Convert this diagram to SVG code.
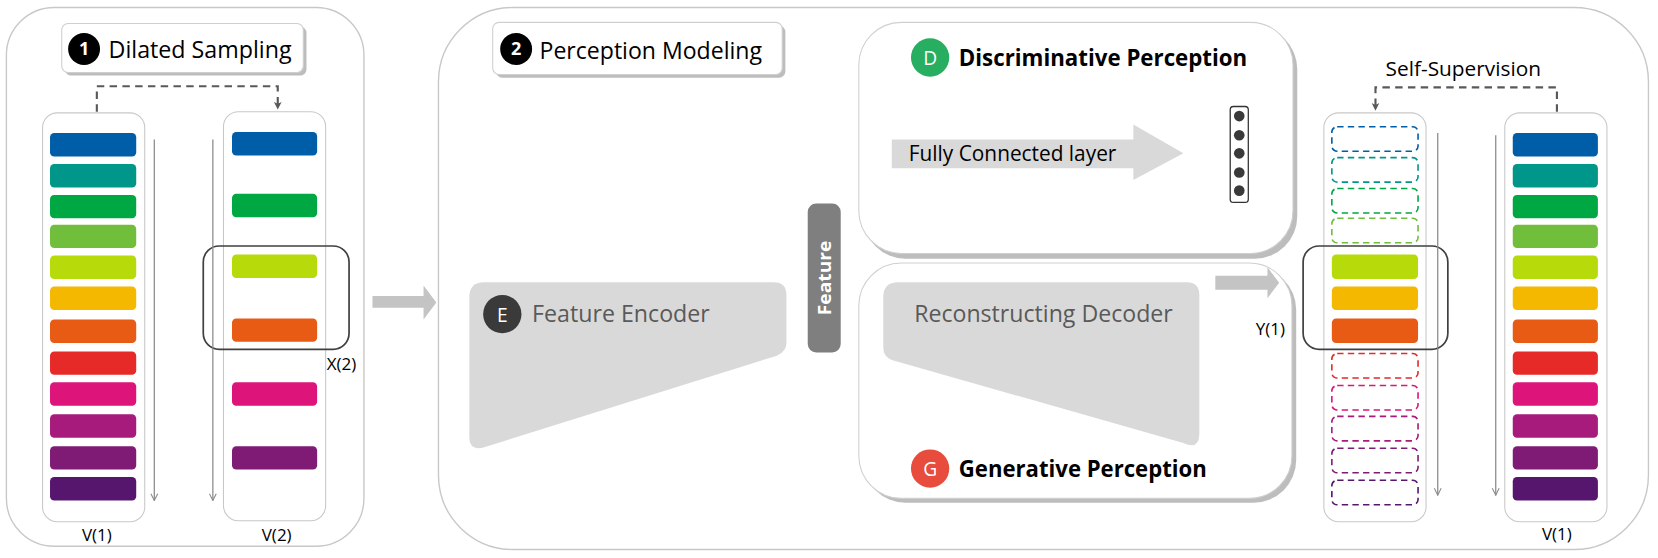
<svg xmlns="http://www.w3.org/2000/svg" width="1658" height="558" viewBox="0 0 1658 558">
<defs>
<style>
text{font-family:"Open Sans","Noto Sans","Liberation Sans",sans-serif;}
.panel{fill:#fff;stroke:#c8c8c8;stroke-width:1.3}
.col{fill:#fff;stroke:#c8c8c8;stroke-width:1}
.shadow{fill:#bdbdbd}
.box{fill:#fff;stroke:#cfcfcf;stroke-width:1}
.hl{fill:none;stroke:#404040;stroke-width:1.6}
.seq{stroke:#8c8c8c;stroke-width:1.2;fill:none}
.dash{stroke:#595959;stroke-width:2;fill:none;stroke-dasharray:7 5}
.db{fill:none;stroke-width:1.5;stroke-dasharray:6 4}
.gray{fill:#d9d9d9}
.lbl{font-size:16px;fill:#000}
</style>
<marker id="thin" viewBox="0 0 10 10" refX="9" refY="5" markerWidth="8" markerHeight="8" orient="auto" markerUnits="userSpaceOnUse"><polyline points="1,1 9,5 1,9" fill="none" stroke="#8c8c8c" stroke-width="1.3"/></marker>
<marker id="dk" viewBox="0 0 10 10" refX="8" refY="5" markerWidth="9" markerHeight="9" orient="auto" markerUnits="userSpaceOnUse"><path d="M1,1 L9,5 L1,9 L3,5 Z" fill="#595959"/></marker>
</defs>
<g transform="scale(1.0642,1.0649)">
<g id="panel-sampling">
<rect class="panel" x="6" y="7" width="336" height="506" rx="45"/>
<rect class="shadow" x="61" y="25" width="227" height="46" rx="6"/>
<rect class="box" x="58" y="22" width="227" height="46" rx="6"/>
<circle cx="79" cy="46" r="15" fill="#000"/>
<text x="79" y="52" font-size="17" font-weight="bold" fill="#fff" text-anchor="middle">1</text>
<text x="102" y="54" font-size="23" textLength="172" lengthAdjust="spacingAndGlyphs">Dilated Sampling</text>
</g>
<g id="col-v1">
<rect class="col" x="40" y="106" width="96" height="384" rx="14"/>
<rect x="47" y="125" width="81" height="22" rx="4" fill="#005ea8"/>
<rect x="47" y="154" width="81" height="22" rx="4" fill="#00968a"/>
<rect x="47" y="183" width="81" height="22" rx="4" fill="#00a843"/>
<rect x="47" y="211" width="81" height="22" rx="4" fill="#70be3b"/>
<rect x="47" y="240" width="81" height="22" rx="4" fill="#b6da0a"/>
<rect x="47" y="269" width="81" height="22" rx="4" fill="#f4b800"/>
<rect x="47" y="300" width="81" height="22" rx="4" fill="#e75b15"/>
<rect x="47" y="330" width="81" height="22" rx="4" fill="#e52a27"/>
<rect x="47" y="359" width="81" height="22" rx="4" fill="#dd1479"/>
<rect x="47" y="389" width="81" height="22" rx="4" fill="#a61b7b"/>
<rect x="47" y="419" width="81" height="22" rx="4" fill="#7f1b75"/>
<rect x="47" y="448" width="81" height="22" rx="4" fill="#57166e"/>
<text class="lbl" x="91" y="508" text-anchor="middle">V(1)</text>
</g>
<g id="col-v2">
<rect class="col" x="210" y="105" width="96" height="384" rx="14"/>
<rect x="218" y="124" width="80" height="22" rx="4" fill="#005ea8"/>
<rect x="218" y="182" width="80" height="22" rx="4" fill="#00a843"/>
<rect x="218" y="239" width="80" height="22" rx="4" fill="#b6da0a"/>
<rect x="218" y="299" width="80" height="22" rx="4" fill="#e75b15"/>
<rect x="218" y="359" width="80" height="22" rx="4" fill="#dd1479"/>
<rect x="218" y="419" width="80" height="22" rx="4" fill="#7f1b75"/>
<rect class="hl" x="191" y="231" width="137" height="97" rx="15"/>
<text class="lbl" x="307" y="347">X(2)</text>
<text class="lbl" x="260" y="508" text-anchor="middle">V(2)</text>
</g>
<g id="panel-modeling">
<rect class="panel" x="412" y="7" width="1137" height="509" rx="70"/>
<rect class="shadow" x="466" y="24" width="272" height="49" rx="6"/>
<rect class="box" x="463" y="21" width="272" height="49" rx="6"/>
<circle cx="485" cy="46" r="15" fill="#000"/>
<text x="485" y="52" font-size="17" font-weight="bold" fill="#fff" text-anchor="middle">2</text>
<text x="507" y="55" font-size="23" textLength="209" lengthAdjust="spacingAndGlyphs">Perception Modeling</text>
</g>
<g id="encoder">
<path class="gray" d="M455,265 H727 Q739,265 739,277 V322 Q739,330 730,334 L455,420 Q441,424 441,410 V279 Q441,265 455,265 Z"/>
<circle cx="472" cy="295" r="18" fill="#3a3a3a"/>
<text x="472" y="302" font-size="18" fill="#fff" text-anchor="middle">E</text>
<text x="500" y="302" font-size="22" fill="#595959" textLength="167" lengthAdjust="spacingAndGlyphs">Feature Encoder</text>
</g>
<g id="feature">
<rect x="759" y="191" width="31" height="140" rx="8" fill="#7f7f7f"/>
<text x="0" y="0" transform="translate(781,261) rotate(-90)" font-size="17" font-weight="bold" fill="#fff" text-anchor="middle" font-family="DejaVu Sans, sans-serif" textLength="70" lengthAdjust="spacingAndGlyphs">Feature</text>
</g>
<g id="discriminative">
<rect class="shadow" x="811" y="25" width="408" height="218" rx="40"/>
<rect class="box" x="807" y="21" width="408" height="217" rx="40"/>
<circle cx="874" cy="54" r="18" fill="#27ae60"/>
<text x="874" y="61" font-size="18" fill="#fff" text-anchor="middle">D</text>
<text x="901" y="62" font-size="22" font-weight="bold" textLength="271" lengthAdjust="spacingAndGlyphs">Discriminative Perception</text>
<path class="gray" d="M838,131 H1065 V117 L1112,144 L1065,169 V158 H838 Z"/>
<text x="854" y="151" font-size="20" fill="#000" textLength="195" lengthAdjust="spacingAndGlyphs">Fully Connected layer</text>
<rect x="1156" y="100" width="17" height="90" rx="3" fill="#fff" stroke="#333" stroke-width="1.2"/>
<circle cx="1164.5" cy="109" r="5" fill="#3a3a3a"/>
<circle cx="1164.5" cy="127" r="5" fill="#3a3a3a"/>
<circle cx="1164.5" cy="144" r="5" fill="#3a3a3a"/>
<circle cx="1164.5" cy="162" r="5" fill="#3a3a3a"/>
<circle cx="1164.5" cy="179" r="5" fill="#3a3a3a"/>
</g>
<g id="generative">
<rect class="shadow" x="811" y="251" width="407" height="221" rx="40"/>
<rect class="box" x="807" y="247" width="407" height="221" rx="40"/>
<path class="gray" d="M844,265 H1115 Q1127,265 1127,277 V407 Q1127,423 1112,416 L838,338 Q830,335 830,326 V279 Q830,265 844,265 Z"/>
<text x="859" y="302" font-size="22" fill="#595959" textLength="243" lengthAdjust="spacingAndGlyphs">Reconstructing Decoder</text>
<circle cx="874" cy="440" r="18" fill="#e74c3c"/>
<text x="874" y="447" font-size="18" fill="#fff" text-anchor="middle">G</text>
<text x="901" y="448" font-size="22" font-weight="bold" textLength="233" lengthAdjust="spacingAndGlyphs">Generative Perception</text>
<text class="lbl" x="1180" y="315">Y(1)</text>
</g>
<g id="col-recon">
<rect class="col" x="1244" y="106" width="96" height="384" rx="14"/>
<rect class="db" x="1251.5" y="119" width="81" height="23" rx="5" stroke="#005ea8"/>
<rect class="db" x="1251.5" y="148" width="81" height="23" rx="5" stroke="#00968a"/>
<rect class="db" x="1251.5" y="177" width="81" height="23" rx="5" stroke="#00a843"/>
<rect class="db" x="1251.5" y="205" width="81" height="23" rx="5" stroke="#70be3b"/>
<rect x="1251.5" y="239" width="81" height="23" rx="4" fill="#b6da0a"/>
<rect x="1251.5" y="269" width="81" height="22" rx="4" fill="#f4b800"/>
<rect x="1251.5" y="299" width="81" height="23" rx="4" fill="#e75b15"/>
<rect class="db" x="1251.5" y="332" width="81" height="23" rx="5" stroke="#e52a27"/>
<rect class="db" x="1251.5" y="362" width="81" height="23" rx="5" stroke="#dd1479"/>
<rect class="db" x="1251.5" y="391" width="81" height="23" rx="5" stroke="#a61b7b"/>
<rect class="db" x="1251.5" y="421" width="81" height="23" rx="5" stroke="#7f1b75"/>
<rect class="db" x="1251.5" y="451" width="81" height="23" rx="5" stroke="#57166e"/>
<rect class="hl" x="1224.5" y="231" width="136" height="97" rx="15"/>
</g>
<g id="col-v1-target">
<rect class="col" x="1414" y="106" width="96" height="384" rx="14"/>
<rect x="1421.5" y="125" width="80" height="22" rx="4" fill="#005ea8"/>
<rect x="1421.5" y="154" width="80" height="22" rx="4" fill="#00968a"/>
<rect x="1421.5" y="183" width="80" height="22" rx="4" fill="#00a843"/>
<rect x="1421.5" y="211" width="80" height="22" rx="4" fill="#70be3b"/>
<rect x="1421.5" y="240" width="80" height="22" rx="4" fill="#b6da0a"/>
<rect x="1421.5" y="269" width="80" height="22" rx="4" fill="#f4b800"/>
<rect x="1421.5" y="300" width="80" height="22" rx="4" fill="#e75b15"/>
<rect x="1421.5" y="330" width="80" height="22" rx="4" fill="#e52a27"/>
<rect x="1421.5" y="359" width="80" height="22" rx="4" fill="#dd1479"/>
<rect x="1421.5" y="389" width="80" height="22" rx="4" fill="#a61b7b"/>
<rect x="1421.5" y="419" width="80" height="22" rx="4" fill="#7f1b75"/>
<rect x="1421.5" y="448" width="80" height="22" rx="4" fill="#57166e"/>
<text class="lbl" x="1463" y="507" text-anchor="middle">V(1)</text>
<text x="1302" y="71" font-size="19" textLength="146" lengthAdjust="spacingAndGlyphs">Self-Supervision</text>
</g>
<g id="connectors">
<line class="seq" x1="145" y1="131" x2="145" y2="470" marker-end="url(#thin)"/>
<line class="seq" x1="200" y1="131" x2="200" y2="470" marker-end="url(#thin)"/>
<line class="seq" x1="1351" y1="125" x2="1351" y2="465" marker-end="url(#thin)"/>
<line class="seq" x1="1405.5" y1="127" x2="1405.5" y2="465" marker-end="url(#thin)"/>
<path class="dash" d="M91,105 V81 H261 V102" marker-end="url(#dk)"/>
<path class="dash" d="M1463,105 V82 H1292.5 V103" marker-end="url(#dk)"/>
<path class="gray" fill="#c8c8c8" d="M350,278 H398 V268 L410,284 L398,300 V289 H350 Z" style="fill:#c4c4c4"/>
<path class="gray" d="M1142,259 H1191 V251 L1202,265.5 L1191,280 V272 H1142 Z" style="fill:#c4c4c4"/>
</g>
</g>
</svg>
